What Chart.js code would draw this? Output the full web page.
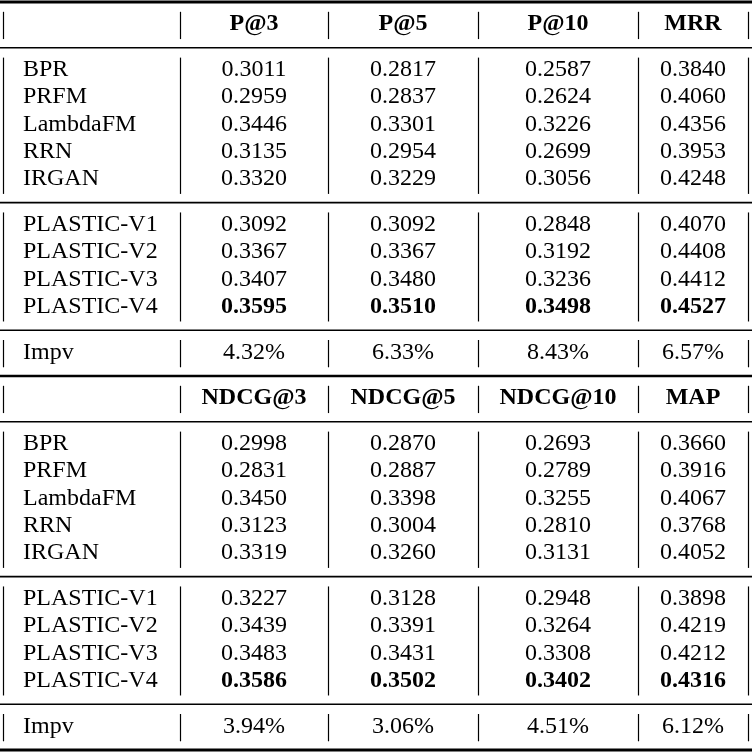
<!DOCTYPE html>
<html>
<head>
<meta charset="utf-8">
<script src="https://cdn.jsdelivr.net/npm/chart.js@4.4.1/dist/chart.umd.min.js"></script>
<style>
  html, body { margin: 0; padding: 0; background: #fff; }
  #wrap { width: 752px; height: 752px; font-family: "Liberation Serif"; }
</style>
</head>
<body>
<div id="wrap"><canvas id="chart"></canvas></div>
<script>
// data
const methods = ["BPR", "PRFM", "LambdaFM", "RRN", "IRGAN",
  "PLASTIC-V1", "PLASTIC-V2", "PLASTIC-V3", "PLASTIC-V4"];
const bestMethod = "PLASTIC-V4";
const impvLabel = "Impv";

const metricsTop = ["P@3", "P@5", "P@10", "MRR"];
const metricsBottom = ["NDCG@3", "NDCG@5", "NDCG@10", "MAP"];

const p3 = [0.3011, 0.2959, 0.3446, 0.3135, 0.3320, 0.3092, 0.3367, 0.3407, 0.3595];
const p5 = [0.2817, 0.2837, 0.3301, 0.2954, 0.3229, 0.3092, 0.3367, 0.3480, 0.3510];
const p10 = [0.2587, 0.2624, 0.3226, 0.2699, 0.3056, 0.2848, 0.3192, 0.3236, 0.3498];
const mrr = [0.3840, 0.4060, 0.4356, 0.3953, 0.4248, 0.4070, 0.4408, 0.4412, 0.4527];

const ndcg3 = [0.2998, 0.2831, 0.3450, 0.3123, 0.3319, 0.3227, 0.3439, 0.3483, 0.3586];
const ndcg5 = [0.2870, 0.2887, 0.3398, 0.3004, 0.3260, 0.3128, 0.3391, 0.3431, 0.3502];
const ndcg10 = [0.2693, 0.2789, 0.3255, 0.2810, 0.3131, 0.2948, 0.3264, 0.3308, 0.3402];
const map = [0.3660, 0.3916, 0.4067, 0.3768, 0.4052, 0.3898, 0.4219, 0.4212, 0.4316];

const impvTop = [4.32, 6.33, 8.43, 6.57];
const impvBottom = [3.94, 3.06, 4.51, 6.12];

// layout (style only)
const colWidths = [177, 148, 150, 160, 110];
const nameIndent = 20;
const blocks = [1, 5, 4, 1]; // header, baselines, plastic variants, impv
const gapTop = 0.86;
const gapBottom = 0.82;
const FONT = '"Liberation Serif", "Times New Roman", Times, serif';
const FONT_SIZE = 24;

const colEdges = [0];
colWidths.forEach(w => colEdges.push(colEdges[colEdges.length - 1] + w));

// row positions of one table, in row units
function layoutTable(start) {
  const rows = [];
  const rules = [start];
  const spans = [];
  let r = start;
  blocks.forEach(n => {
    const first = r + gapTop;
    for (let i = 0; i < n; i++) rows.push(first + i);
    spans.push([first - 0.5, first + n - 1 + 0.5]);
    r = first + n - 1 + gapBottom;
    rules.push(r);
  });
  return { rows, rules, spans, end: r };
}

const tableTop = layoutTable(0);
const tableBottom = layoutTable(tableTop.end);
const totalUnits = tableBottom.end;

function tableDatasets(layout, metrics, series, impv) {
  const sets = [];
  const nameTexts = [""].concat(methods, [impvLabel]);
  sets.push({
    data: layout.rows.map(y => ({ x: nameIndent, y })),
    texts: nameTexts,
    bold: nameTexts.map(() => false),
    align: "left"
  });
  metrics.forEach((m, c) => {
    const texts = [m].concat(series[c].map(v => v.toFixed(4)), [impv[c].toFixed(2) + "%"]);
    const bold = [true].concat(methods.map(name => name === bestMethod), [false]);
    const cx = (colEdges[c + 1] + colEdges[c + 2]) / 2;
    sets.push({
      data: layout.rows.map(y => ({ x: cx, y })),
      texts,
      bold,
      align: "center"
    });
  });
  return sets;
}

const datasets = tableDatasets(tableTop, metricsTop, [p3, p5, p10, mrr], impvTop)
  .concat(tableDatasets(tableBottom, metricsBottom, [ndcg3, ndcg5, ndcg10, map], impvBottom))
  .map(d => Object.assign(d, { pointRadius: 0, showLine: false }));

const allRules = tableTop.rules.concat(tableBottom.rules.slice(1));
const ruleWidths = allRules.map((r, i) => {
  if (i === 0 || i === allRules.length - 1) return 3;
  if (i === tableTop.rules.length - 1) return 2.4;
  return 1.6;
});
const allSpans = tableTop.spans.concat(tableBottom.spans);

const tablePlugin = {
  id: "tablePlugin",
  beforeDraw(chart) {
    const ctx = chart.ctx;
    ctx.save();
    ctx.fillStyle = "#fff";
    ctx.fillRect(0, 0, chart.width, chart.height);
    ctx.restore();
  },
  afterDatasetsDraw(chart) {
    const { ctx, scales: { x, y } } = chart;
    ctx.save();
    ctx.strokeStyle = "#000";
    // horizontal rules
    allRules.forEach((r, i) => {
      const py = y.getPixelForValue(r);
      ctx.lineWidth = ruleWidths[i];
      ctx.beginPath();
      ctx.moveTo(0, py);
      ctx.lineTo(chart.width, py);
      ctx.stroke();
    });
    // vertical rules, broken at each block
    ctx.lineWidth = 1.2;
    allSpans.forEach(([a, b]) => {
      colEdges.forEach(e => {
        const px = Math.round(x.getPixelForValue(e)) + 0.5;
        ctx.beginPath();
        ctx.moveTo(px, y.getPixelForValue(a));
        ctx.lineTo(px, y.getPixelForValue(b));
        ctx.stroke();
      });
    });
    // cell texts
    ctx.fillStyle = "#000";
    ctx.textBaseline = "alphabetic";
    chart.data.datasets.forEach((ds, di) => {
      const meta = chart.getDatasetMeta(di);
      ctx.textAlign = ds.align;
      meta.data.forEach((pt, i) => {
        ctx.font = (ds.bold[i] ? "bold " : "") + FONT_SIZE + "px " + FONT;
        ctx.fillText(ds.texts[i], pt.x, pt.y + 5);
      });
    });
    ctx.restore();
  }
};

function buildChart() {
  const chart = new Chart(document.getElementById("chart"), {
    type: "scatter",
    data: { datasets },
    options: {
      responsive: true,
      maintainAspectRatio: false,
      animation: false,
      layout: { padding: { top: 2, bottom: 2, left: 3, right: 4 } },
      plugins: { legend: { display: false }, tooltip: { enabled: false } },
      scales: {
        x: { type: "linear", min: 0, max: colEdges[colEdges.length - 1], display: false },
        y: { type: "linear", min: 0, max: totalUnits, reverse: true, display: false }
      }
    },
    plugins: [tablePlugin]
  });
  document.fonts.ready.then(() => chart.draw());
}

Promise.all([
  document.fonts.load(FONT_SIZE + 'px "Liberation Serif"'),
  document.fonts.load('bold ' + FONT_SIZE + 'px "Liberation Serif"')
]).then(buildChart, buildChart);
</script>
</body>
</html>
